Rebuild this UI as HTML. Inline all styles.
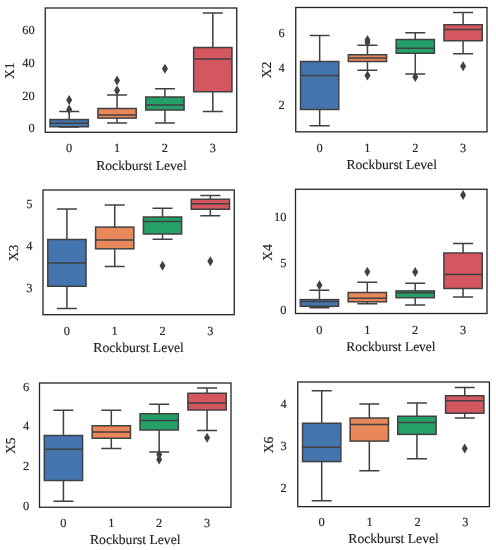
<!DOCTYPE html><html><head><meta charset="utf-8"><title>Boxplots</title>
<style>html,body{margin:0;padding:0;background:#fff}svg{display:block}text{text-rendering:geometricPrecision;font-family:"Liberation Serif","DejaVu Serif",serif;fill:#262626;stroke:#262626;stroke-width:0.15px}</style></head><body>
<svg width="496" height="550" viewBox="0 0 496 550">
<rect width="496" height="550" fill="#fff"/>
<g>
<path d="M69.19 95 l3 5 l-3 5 l-3 -5z" fill="#414141"/>
<path d="M69.19 104.4 l3 5 l-3 5 l-3 -5z" fill="#414141"/>
<path d="M69.19 111.5V119.55M69.19 126.75V126.9M59.91 111.5H78.46M59.91 126.9H78.46" stroke="#414141" stroke-width="1.5" fill="none" stroke-linecap="square"/>
<rect x="50.04" y="119.55" width="38.3" height="7.2" fill="#4575ae" stroke="#414141" stroke-width="1.5"/>
<path d="M50.04 123.3H88.34" stroke="#414141" stroke-width="1.5"/>
<path d="M117.06 75.5 l3 5 l-3 5 l-3 -5z" fill="#414141"/>
<path d="M117.06 85.6 l3 5 l-3 5 l-3 -5z" fill="#414141"/>
<path d="M117.06 95V108.5M117.06 118.1V123M107.79 95H126.34M107.79 123H126.34" stroke="#414141" stroke-width="1.5" fill="none" stroke-linecap="square"/>
<rect x="97.91" y="108.5" width="38.3" height="9.6" fill="#e8875a" stroke="#414141" stroke-width="1.5"/>
<path d="M97.91 114.9H136.21" stroke="#414141" stroke-width="1.5"/>
<path d="M164.94 63.75 l3 5 l-3 5 l-3 -5z" fill="#414141"/>
<path d="M164.94 88.75V97M164.94 110V123M155.66 88.75H174.21M155.66 123H174.21" stroke="#414141" stroke-width="1.5" fill="none" stroke-linecap="square"/>
<rect x="145.79" y="97" width="38.3" height="13" fill="#25a068" stroke="#414141" stroke-width="1.5"/>
<path d="M145.79 105H184.09" stroke="#414141" stroke-width="1.5"/>
<path d="M212.81 13V47.5M212.81 91.75V111.5M203.54 13H222.09M203.54 111.5H222.09" stroke="#414141" stroke-width="1.5" fill="none" stroke-linecap="square"/>
<rect x="193.66" y="47.5" width="38.3" height="44.25" fill="#d4565f" stroke="#414141" stroke-width="1.5"/>
<path d="M193.66 59H231.96" stroke="#414141" stroke-width="1.5"/>
<rect x="45.25" y="8" width="191.5" height="124.3" fill="none" stroke="#242424" stroke-width="1.3"/>
<text x="34.75" y="132.1" font-size="12.4" text-anchor="end">0</text>
<text x="34.75" y="99.6" font-size="12.4" text-anchor="end">20</text>
<text x="34.75" y="67.1" font-size="12.4" text-anchor="end">40</text>
<text x="34.75" y="33.85" font-size="12.4" text-anchor="end">60</text>
<text x="69.19" y="151.89" font-size="12.4" text-anchor="middle">0</text>
<text x="117.06" y="151.89" font-size="12.4" text-anchor="middle">1</text>
<text x="164.94" y="151.89" font-size="12.4" text-anchor="middle">2</text>
<text x="212.81" y="151.89" font-size="12.4" text-anchor="middle">3</text>
<text x="141.45" y="169.69" font-size="13.65" text-anchor="middle">Rockburst Level</text>
<text transform="translate(14.3 70.75) rotate(-90)" font-size="13.65" text-anchor="middle">X1</text>
</g>
<g>
<path d="M319.66 35.5V61.5M319.66 109.5V125.75M310.39 35.5H328.92M310.39 125.75H328.92" stroke="#414141" stroke-width="1.5" fill="none" stroke-linecap="square"/>
<rect x="300.53" y="61.5" width="38.25" height="48" fill="#4575ae" stroke="#414141" stroke-width="1.5"/>
<path d="M300.53 75.5H338.78" stroke="#414141" stroke-width="1.5"/>
<path d="M367.47 35 l3 5 l-3 5 l-3 -5z" fill="#414141"/>
<path d="M367.47 37.5 l3 5 l-3 5 l-3 -5z" fill="#414141"/>
<path d="M367.47 70.5 l3 5 l-3 5 l-3 -5z" fill="#414141"/>
<path d="M367.47 45.25V54.75M367.47 61.5V70.25M358.21 45.25H376.73M358.21 70.25H376.73" stroke="#414141" stroke-width="1.5" fill="none" stroke-linecap="square"/>
<rect x="348.34" y="54.75" width="38.25" height="6.75" fill="#e8875a" stroke="#414141" stroke-width="1.5"/>
<path d="M348.34 58H386.59" stroke="#414141" stroke-width="1.5"/>
<path d="M415.28 72 l3 5 l-3 5 l-3 -5z" fill="#414141"/>
<path d="M415.28 32.75V39.5M415.28 53.25V74M406.02 32.75H424.54M406.02 74H424.54" stroke="#414141" stroke-width="1.5" fill="none" stroke-linecap="square"/>
<rect x="396.16" y="39.5" width="38.25" height="13.75" fill="#25a068" stroke="#414141" stroke-width="1.5"/>
<path d="M396.16 48.25H434.41" stroke="#414141" stroke-width="1.5"/>
<path d="M463.09 61.25 l3 5 l-3 5 l-3 -5z" fill="#414141"/>
<path d="M463.09 12.5V24.75M463.09 40.75V53.75M453.83 12.5H472.36M453.83 53.75H472.36" stroke="#414141" stroke-width="1.5" fill="none" stroke-linecap="square"/>
<rect x="443.97" y="24.75" width="38.25" height="16" fill="#d4565f" stroke="#414141" stroke-width="1.5"/>
<path d="M443.97 29.5H482.22" stroke="#414141" stroke-width="1.5"/>
<rect x="295.75" y="7.5" width="191.25" height="124.35" fill="none" stroke="#242424" stroke-width="1.3"/>
<text x="284.75" y="108.6" font-size="12.4" text-anchor="end">2</text>
<text x="284.75" y="72.45" font-size="12.4" text-anchor="end">4</text>
<text x="284.75" y="36.6" font-size="12.4" text-anchor="end">6</text>
<text x="319.66" y="151.59" font-size="12.4" text-anchor="middle">0</text>
<text x="367.47" y="151.59" font-size="12.4" text-anchor="middle">1</text>
<text x="415.28" y="151.59" font-size="12.4" text-anchor="middle">2</text>
<text x="463.09" y="151.59" font-size="12.4" text-anchor="middle">3</text>
<text x="391.68" y="168.59" font-size="13.65" text-anchor="middle">Rockburst Level</text>
<text transform="translate(270.5 70) rotate(-90)" font-size="13.65" text-anchor="middle">X2</text>
</g>
<g>
<path d="M66.91 209V239.5M66.91 286.25V308.6M57.64 209H76.17M57.64 308.6H76.17" stroke="#414141" stroke-width="1.5" fill="none" stroke-linecap="square"/>
<rect x="47.78" y="239.5" width="38.25" height="46.75" fill="#4575ae" stroke="#414141" stroke-width="1.5"/>
<path d="M47.78 263.1H86.03" stroke="#414141" stroke-width="1.5"/>
<path d="M114.72 205V227.1M114.72 248.8V266.6M105.46 205H123.98M105.46 266.6H123.98" stroke="#414141" stroke-width="1.5" fill="none" stroke-linecap="square"/>
<rect x="95.59" y="227.1" width="38.25" height="21.7" fill="#e8875a" stroke="#414141" stroke-width="1.5"/>
<path d="M95.59 240.1H133.84" stroke="#414141" stroke-width="1.5"/>
<path d="M162.53 260.75 l3 5 l-3 5 l-3 -5z" fill="#414141"/>
<path d="M162.53 208.25V217M162.53 234V239.25M153.27 208.25H171.79M153.27 239.25H171.79" stroke="#414141" stroke-width="1.5" fill="none" stroke-linecap="square"/>
<rect x="143.41" y="217" width="38.25" height="17" fill="#25a068" stroke="#414141" stroke-width="1.5"/>
<path d="M143.41 221.6H181.66" stroke="#414141" stroke-width="1.5"/>
<path d="M210.34 256.25 l3 5 l-3 5 l-3 -5z" fill="#414141"/>
<path d="M210.34 195.5V199.25M210.34 209.25V215.75M201.08 195.5H219.61M201.08 215.75H219.61" stroke="#414141" stroke-width="1.5" fill="none" stroke-linecap="square"/>
<rect x="191.22" y="199.25" width="38.25" height="10" fill="#d4565f" stroke="#414141" stroke-width="1.5"/>
<path d="M191.22 203.75H229.47" stroke="#414141" stroke-width="1.5"/>
<rect x="43" y="190" width="191.25" height="124.7" fill="none" stroke="#242424" stroke-width="1.3"/>
<text x="32.5" y="291.85" font-size="12.4" text-anchor="end">3</text>
<text x="32.5" y="249.6" font-size="12.4" text-anchor="end">4</text>
<text x="32.5" y="207.6" font-size="12.4" text-anchor="end">5</text>
<text x="66.91" y="334.99" font-size="12.4" text-anchor="middle">0</text>
<text x="114.72" y="334.99" font-size="12.4" text-anchor="middle">1</text>
<text x="162.53" y="334.99" font-size="12.4" text-anchor="middle">2</text>
<text x="210.34" y="334.99" font-size="12.4" text-anchor="middle">3</text>
<text x="138.62" y="351.6" font-size="13.65" text-anchor="middle">Rockburst Level</text>
<text transform="translate(18 253) rotate(-90)" font-size="13.65" text-anchor="middle">X3</text>
</g>
<g>
<path d="M319.44 280.2 l3 5 l-3 5 l-3 -5z" fill="#414141"/>
<path d="M319.44 290.2V299.6M319.44 306.3V307.7M310.16 290.2H328.71M310.16 307.7H328.71" stroke="#414141" stroke-width="1.5" fill="none" stroke-linecap="square"/>
<rect x="300.29" y="299.6" width="38.3" height="6.7" fill="#4575ae" stroke="#414141" stroke-width="1.5"/>
<path d="M300.29 301.45H338.59" stroke="#414141" stroke-width="1.5"/>
<path d="M367.31 266.65 l3 5 l-3 5 l-3 -5z" fill="#414141"/>
<path d="M367.31 282.15V292.5M367.31 301.8V303.8M358.04 282.15H376.59M358.04 303.8H376.59" stroke="#414141" stroke-width="1.5" fill="none" stroke-linecap="square"/>
<rect x="348.16" y="292.5" width="38.3" height="9.3" fill="#e8875a" stroke="#414141" stroke-width="1.5"/>
<path d="M348.16 298.15H386.46" stroke="#414141" stroke-width="1.5"/>
<path d="M415.19 266.9 l3 5 l-3 5 l-3 -5z" fill="#414141"/>
<path d="M415.19 283.35V290.9M415.19 297.7V304.9M405.91 283.35H424.46M405.91 304.9H424.46" stroke="#414141" stroke-width="1.5" fill="none" stroke-linecap="square"/>
<rect x="396.04" y="290.9" width="38.3" height="6.8" fill="#25a068" stroke="#414141" stroke-width="1.5"/>
<path d="M396.04 292.75H434.34" stroke="#414141" stroke-width="1.5"/>
<path d="M463.06 190 l3 5 l-3 5 l-3 -5z" fill="#414141"/>
<path d="M463.06 243.5V253M463.06 288.5V297M453.79 243.5H472.34M453.79 297H472.34" stroke="#414141" stroke-width="1.5" fill="none" stroke-linecap="square"/>
<rect x="443.91" y="253" width="38.3" height="35.5" fill="#d4565f" stroke="#414141" stroke-width="1.5"/>
<path d="M443.91 274.45H482.21" stroke="#414141" stroke-width="1.5"/>
<rect x="295.5" y="189.25" width="191.5" height="124.25" fill="none" stroke="#242424" stroke-width="1.3"/>
<text x="286.5" y="313.5" font-size="12.4" text-anchor="end">0</text>
<text x="286.5" y="266.6" font-size="12.4" text-anchor="end">5</text>
<text x="286.5" y="220.75" font-size="12.4" text-anchor="end">10</text>
<text x="319.44" y="333.59" font-size="12.4" text-anchor="middle">0</text>
<text x="367.31" y="333.59" font-size="12.4" text-anchor="middle">1</text>
<text x="415.19" y="333.59" font-size="12.4" text-anchor="middle">2</text>
<text x="463.06" y="333.59" font-size="12.4" text-anchor="middle">3</text>
<text x="390.95" y="351.1" font-size="13.45" text-anchor="middle">Rockburst Level</text>
<text transform="translate(272.25 252.55) rotate(-90)" font-size="13.65" text-anchor="middle">X4</text>
</g>
<g>
<path d="M63.44 410.25V435.5M63.44 480.5V501.25M54.16 410.25H72.71M54.16 501.25H72.71" stroke="#414141" stroke-width="1.5" fill="none" stroke-linecap="square"/>
<rect x="44.29" y="435.5" width="38.3" height="45" fill="#4575ae" stroke="#414141" stroke-width="1.5"/>
<path d="M44.29 449.25H82.59" stroke="#414141" stroke-width="1.5"/>
<path d="M111.31 410.25V425.75M111.31 438.25V448.4M102.04 410.25H120.59M102.04 448.4H120.59" stroke="#414141" stroke-width="1.5" fill="none" stroke-linecap="square"/>
<rect x="92.16" y="425.75" width="38.3" height="12.5" fill="#e8875a" stroke="#414141" stroke-width="1.5"/>
<path d="M92.16 432H130.46" stroke="#414141" stroke-width="1.5"/>
<path d="M159.19 449.5 l3 5 l-3 5 l-3 -5z" fill="#414141"/>
<path d="M159.19 454.5 l3 5 l-3 5 l-3 -5z" fill="#414141"/>
<path d="M159.19 404.25V413.75M159.19 430V452M149.91 404.25H168.46M149.91 452H168.46" stroke="#414141" stroke-width="1.5" fill="none" stroke-linecap="square"/>
<rect x="140.04" y="413.75" width="38.3" height="16.25" fill="#25a068" stroke="#414141" stroke-width="1.5"/>
<path d="M140.04 420.5H178.34" stroke="#414141" stroke-width="1.5"/>
<path d="M207.06 432.75 l3 5 l-3 5 l-3 -5z" fill="#414141"/>
<path d="M207.06 388V393.25M207.06 410V430.5M197.79 388H216.34M197.79 430.5H216.34" stroke="#414141" stroke-width="1.5" fill="none" stroke-linecap="square"/>
<rect x="187.91" y="393.25" width="38.3" height="16.75" fill="#d4565f" stroke="#414141" stroke-width="1.5"/>
<path d="M187.91 403H226.21" stroke="#414141" stroke-width="1.5"/>
<rect x="39.5" y="383" width="191.5" height="124.25" fill="none" stroke="#242424" stroke-width="1.3"/>
<text x="29.25" y="509.8" font-size="12.4" text-anchor="end">0</text>
<text x="29.25" y="469.8" font-size="12.4" text-anchor="end">2</text>
<text x="29.25" y="430.4" font-size="12.4" text-anchor="end">4</text>
<text x="29.25" y="391.4" font-size="12.4" text-anchor="end">6</text>
<text x="63.44" y="527.19" font-size="12.4" text-anchor="middle">0</text>
<text x="111.31" y="527.19" font-size="12.4" text-anchor="middle">1</text>
<text x="159.19" y="527.19" font-size="12.4" text-anchor="middle">2</text>
<text x="207.06" y="527.19" font-size="12.4" text-anchor="middle">3</text>
<text x="135.25" y="543.89" font-size="13.65" text-anchor="middle">Rockburst Level</text>
<text transform="translate(15 445.7) rotate(-90)" font-size="13.65" text-anchor="middle">X5</text>
</g>
<g>
<path d="M321.71 390.75V423.25M321.71 461.6V500.8M312.42 390.75H330.99M312.42 500.8H330.99" stroke="#414141" stroke-width="1.5" fill="none" stroke-linecap="square"/>
<rect x="302.54" y="423.25" width="38.33" height="38.35" fill="#4575ae" stroke="#414141" stroke-width="1.5"/>
<path d="M302.54 447.15H340.87" stroke="#414141" stroke-width="1.5"/>
<path d="M369.32 404V418M369.32 441.1V470.8M360.04 404H378.6M360.04 470.8H378.6" stroke="#414141" stroke-width="1.5" fill="none" stroke-linecap="square"/>
<rect x="350.15" y="418" width="38.33" height="23.1" fill="#e8875a" stroke="#414141" stroke-width="1.5"/>
<path d="M350.15 424.5H388.48" stroke="#414141" stroke-width="1.5"/>
<path d="M416.93 403V416.25M416.93 434.4V458.75M407.65 403H426.21M407.65 458.75H426.21" stroke="#414141" stroke-width="1.5" fill="none" stroke-linecap="square"/>
<rect x="397.77" y="416.25" width="38.33" height="18.15" fill="#25a068" stroke="#414141" stroke-width="1.5"/>
<path d="M397.77 422.5H436.1" stroke="#414141" stroke-width="1.5"/>
<path d="M464.74 443.6 l3 5 l-3 5 l-3 -5z" fill="#414141"/>
<path d="M464.74 387.5V395.75M464.74 413.25V418M455.46 387.5H474.03M455.46 418H474.03" stroke="#414141" stroke-width="1.5" fill="none" stroke-linecap="square"/>
<rect x="445.58" y="395.75" width="38.33" height="17.5" fill="#d4565f" stroke="#414141" stroke-width="1.5"/>
<path d="M445.58 400.75H483.91" stroke="#414141" stroke-width="1.5"/>
<rect x="297.75" y="382" width="191.65" height="124.65" fill="none" stroke="#242424" stroke-width="1.3"/>
<text x="286.75" y="491.5" font-size="12.4" text-anchor="end">2</text>
<text x="286.75" y="449.75" font-size="12.4" text-anchor="end">3</text>
<text x="286.75" y="408.25" font-size="12.4" text-anchor="end">4</text>
<text x="321.71" y="526.39" font-size="12.4" text-anchor="middle">0</text>
<text x="369.62" y="526.39" font-size="12.4" text-anchor="middle">1</text>
<text x="417.53" y="526.39" font-size="12.4" text-anchor="middle">2</text>
<text x="465.44" y="526.39" font-size="12.4" text-anchor="middle">3</text>
<text x="393.57" y="543.39" font-size="13.65" text-anchor="middle">Rockburst Level</text>
<text transform="translate(273.25 444.95) rotate(-90)" font-size="13.65" text-anchor="middle">X6</text>
</g>
</svg></body></html>
